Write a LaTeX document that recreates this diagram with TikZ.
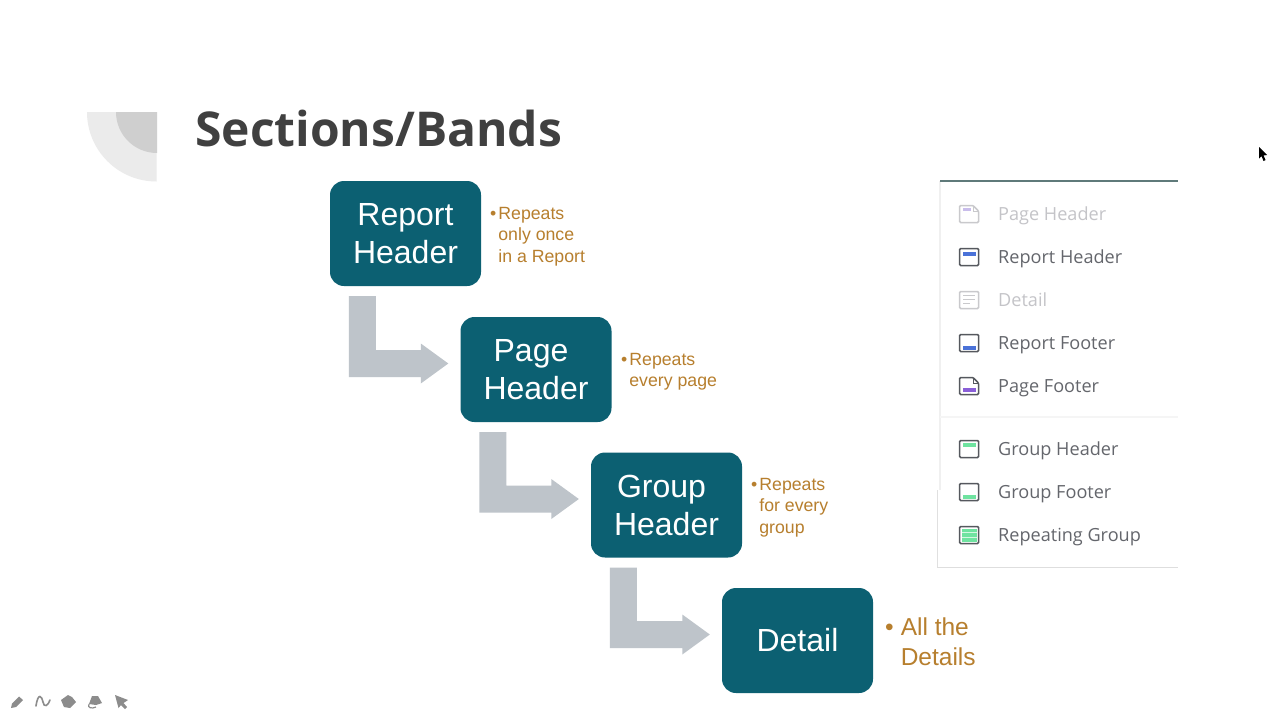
\documentclass[tikz,border=0pt]{standalone}
\usepackage{fontspec}
\setmainfont{Liberation Sans}
\newfontfamily\titlefont{Open Sans}
\newfontfamily\menufont{Open Sans}
\usetikzlibrary{calc}
\definecolor{teal}{HTML}{0C6072}
\definecolor{notecol}{HTML}{B77F2E}
\definecolor{arrowcol}{HTML}{BEC4CA}
\definecolor{titlecol}{HTML}{404040}
\definecolor{menutext}{HTML}{64666C}
\definecolor{menufaint}{HTML}{C4C4C8}
\definecolor{iconcol}{HTML}{55585E}
\definecolor{iconfaint}{HTML}{C9C9CC}
\definecolor{blueband}{HTML}{4A72D8}
\definecolor{purpleband}{HTML}{8A5FD8}
\definecolor{purplefaint}{HTML}{C9BDEB}
\definecolor{greenband}{HTML}{6FE3A0}
\definecolor{toolcol}{HTML}{8C8C8C}
\definecolor{paneltop}{HTML}{5F7A7A}
\tikzset{
  sect/.style={fill=teal,rounded corners=14pt,minimum width=151pt,minimum height=105pt,inner sep=0pt,
    text=white,align=center,font=\fontsize{32}{38}\selectfont},
  note/.style={anchor=north west,inner sep=0pt,text=notecol,align=left,font=\fontsize{17.7}{21.5}\selectfont},
  bignote/.style={anchor=north west,inner sep=0pt,text=notecol,align=left,font=\fontsize{24.5}{30}\selectfont},
  menuitem/.style={anchor=west,inner sep=0pt,text=menutext,font=\menufont\fontsize{18.1}{20}\selectfont},
  menufaintitem/.style={menuitem,text=menufaint},
  iconbox/.style={draw=iconcol,line width=1.5pt,rounded corners=1pt,fill=white},
  tool/.style={fill=toolcol,draw=none},
}
\newcommand{\bentarrow}[2]{%
  \coordinate (s#1) at ($(#1.south west)+(19,10)$);
  \coordinate (t#1) at ($(#2.west)+(-12,-6)$);
  \coordinate (u#1) at ($(t#1)+(-27.5,-13.5)$);
  \coordinate (v#1) at ($(t#1)+(-27.5,13.5)$);
  \fill[arrowcol] (s#1) -- ++(27,0) -- ($(s#1 |- u#1)+(27,0)$)
    -- (u#1) -- ($(t#1)+(-27.5,-20)$) -- (t#1)
    -- ($(t#1)+(-27.5,20)$) -- (v#1)
    -- (s#1 |- v#1) -- cycle;
}
\newcommand{\plainicon}[2]{\draw[iconbox,draw=#2] (959.7,#1-8.5) rectangle (978.5,#1+8.5);}
\newcommand{\bul}{•\hspace{2pt}}
\newcommand{\bulgap}{\phantom{•}\hspace{2pt}}
\begin{document}
\begin{tikzpicture}[x=1pt,y=-1pt]
\useasboundingbox (0,0) rectangle (1280,720);
\fill[white] (0,0) rectangle (1280,720);
% decoration
\fill[black!8] (157,112) -- (87,112) arc[start angle=180,end angle=90,radius=69.5] -- cycle;
\fill[black!19] (157,112) -- (116,112) arc[start angle=180,end angle=90,radius=41] -- cycle;
\node[anchor=base west,inner sep=0pt,text=titlecol,font=\titlefont\bfseries\fontsize{48}{50}\selectfont] (title) at (195,146) {Sections/Bands};
% boxes
\node[sect] (r) at (405.5,233.5) {Report\\Header};
\node[sect] (p) at (536,369.5) {Page\hspace*{10pt}\\Header};
\node[sect] (g) at (666.5,505) {Group\hspace*{10pt}\\Header};
\node[sect] (d) at (797.5,640.5) {Detail};
\bentarrow{r}{p}
\bentarrow{p}{g}
\bentarrow{g}{d}
% notes
\node[note] (n1) at (490,207) {\bul Repeats\\\bulgap only once\\\bulgap in a Report};
\node[note] (n2) at (621,353) {\bul Repeats\\\bulgap every page};
\node[note] (n3) at (751,478) {\bul Repeats\\\bulgap for every\\\bulgap group};
\node[bignote] (n4) at (885,618) {•\hspace{7pt}All the\\\phantom{•}\hspace{7pt}Details};
% menu panel
\draw[black!6,line width=1.2pt] (940,181) -- (940,490);
\draw[black!12,line width=1.5pt] (937.5,490) -- (937.5,567);
\draw[black!13,line width=1.8pt] (937,567.5) -- (1178,567.5);
\draw[black!4,line width=1.5pt] (940,417) -- (1178,417);
\draw[paneltop,line width=2pt] (940,180.5) -- (1178,180.5);
% items
\foreach \yy/\nm/\lab in {259/a/Report Header,345/b/Report Footer,388/c/Page Footer,451/e/Group Header,494/f/Group Footer,537/h/Repeating Group}
  \node[menuitem] (m\nm) at (998,\yy) {\lab};
\node[menufaintitem] (mp) at (998,216) {Page Header};
\node[menufaintitem] (md) at (998,300) {Detail};
% icon Page Header
\draw[iconbox,draw=iconfaint] (959.7,205.5) -- (973,205.5) -- (978.5,211) -- (978.5,222.5) -- (959.7,222.5) -- cycle;
\draw[iconfaint,line width=1pt] (973,205.5) -- (973,211) -- (978.5,211);
\fill[purplefaint] (963,207.7) rectangle (971,211);
% icon Report Header
\plainicon{257}{iconcol}
\fill[blueband] (963,252.3) rectangle (976,256);
% icon Detail
\plainicon{300}{iconfaint}
\draw[iconfaint,line width=1pt] (963,295.5) -- (975,295.5) (963,299.5) -- (975,299.5) (963,303.5) -- (970,303.5);
% icon Report Footer
\plainicon{343}{iconcol}
\fill[blueband] (963,345.5) rectangle (976,349.5);
% icon Page Footer
\draw[iconbox] (959.7,377.5) -- (973,377.5) -- (978.5,383) -- (978.5,394.5) -- (959.7,394.5) -- cycle;
\draw[iconcol,line width=1pt] (973,377.5) -- (973,383) -- (978.5,383);
\fill[purpleband] (962.5,388) rectangle (976,392);
% icon Group Header
\plainicon{449}{iconcol}
\fill[greenband] (963,443.3) rectangle (976,447);
% icon Group Footer
\plainicon{492}{iconcol}
\fill[greenband] (963,495) rectangle (976,499);
% icon Repeating Group
\plainicon{535}{iconcol}
\fill[greenband] (962,528.5) rectangle (976.5,541.5);
\draw[white!70!greenband,line width=1.2pt] (962,532.8) -- (976.5,532.8) (962,537.2) -- (976.5,537.2);
% cursor
\fill[black] (1259,147) -- (1259,158.5) -- (1261.6,156.2) -- (1263.5,161) -- (1265.5,160) -- (1263.6,155.5) -- (1267,155) -- cycle;
% bottom tools
\fill[tool] (11,708) -- (12,703.5) -- (19,696.5) -- (23,700) -- (16,707) -- cycle;
\draw[toolcol,line width=1.6pt,line cap=round] (36,706) .. controls (38,692) and (42,696) .. (43,702) .. controls (44,708) and (48,706) .. (50,700);
\fill[tool] (61,700) -- (68,695) -- (72,697) -- (76,702) -- (70,708) -- (64,707) -- cycle;
\fill[tool] (92,696) -- (98,696) -- (102,703) -- (96,705) -- (89,704) -- cycle;
\draw[toolcol,line width=1.2pt] (89,704) .. controls (87,708) and (92,709) .. (96,707);
\fill[tool] (115,695) -- (128,700) -- (123.5,703) -- (127,707) -- (125,709) -- (121,705) -- (118.5,708) -- cycle;
\end{tikzpicture}
\end{document}
